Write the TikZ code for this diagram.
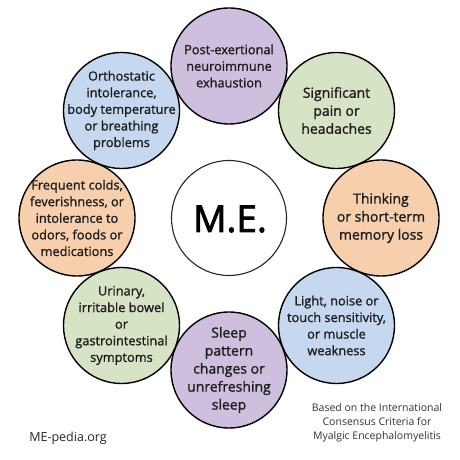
\documentclass[tikz,border=0pt]{standalone}
\usepackage{fontspec}
\setmainfont{Open Sans}
\newfontfamily\semifont[FakeBold=1.3]{Open Sans}
\newfontfamily\heavyfont[FakeBold=2.2]{Open Sans}
\definecolor{mepurple}{RGB}{205,191,221}
\definecolor{megreen}{RGB}{214,227,196}
\definecolor{mepeach}{RGB}{247,207,173}
\definecolor{meblue}{RGB}{197,216,240}
\definecolor{metext}{RGB}{30,30,30}
\tikzset{
  outer/.style={circle, draw=black, line width=1.4pt, minimum size=116pt, inner sep=0pt},
  centre/.style={circle, draw=black!85, line width=1.1pt, minimum size=115pt, inner sep=0pt, fill=white},
  lbl/.style={align=center, text=metext, inner sep=0pt, font=\semifont\fontsize{12.8}{16.6}\selectfont},
  lblbig/.style={align=center, text=metext, inner sep=0pt, font=\semifont\fontsize{14}{18}\selectfont},
}
\begin{document}
\begin{tikzpicture}[x=1pt,y=1pt]
\useasboundingbox (0,0) rectangle (460,460);
\fill[white] (0,0) rectangle (460,460);
% outer circles (image y flipped: y = 460 - yimg)
\node[outer, fill=mepurple] (c1) at (229,394) {};
\node[outer, fill=megreen]  (c2) at (336.5,349.5) {};
\node[outer, fill=mepeach]  (c3) at (381,242) {};
\node[outer, fill=meblue]   (c4) at (336.5,134.5) {};
\node[outer, fill=mepurple] (c5) at (229,90) {};
\node[outer, fill=megreen]  (c6) at (121.5,134.5) {};
\node[outer, fill=mepeach]  (c7) at (77,242) {};
\node[outer, fill=meblue]   (c8) at (121.5,349.5) {};
\node[centre] (c0) at (229,242) {};
% texts
\node[lbl] (t1) at (c1.center) {Post-exertional\\neuroimmune\\exhaustion};
\node[lblbig] (t2) at (c2.center) {Significant\\pain or\\headaches};
\node[lblbig] (t3) at (c3.center) {Thinking\\or short-term\\memory loss};
\node[lbl] (t4) at (c4.center) {Light, noise or\\touch sensitivity,\\or muscle\\weakness};
\node[lblbig] (t5) at (c5.center) {Sleep\\pattern\\changes or\\unrefreshing\\sleep};
\node[lbl] (t6) at (c6.center) {Urinary,\\irritable bowel\\or\\gastrointestinal\\symptoms};
\node[lbl] (t7) at (c7.center) {Frequent colds,\\feverishness, or\\intolerance to\\odors, foods or\\medications};
\node[lbl] (t8) at (c8.center) {Orthostatic\\intolerance,\\body temperature\\or breathing\\problems};
\node[inner sep=0pt, text=black, font=\heavyfont\fontsize{37}{37}\selectfont] (t0) at (230,241) {M.E.};
% captions
\node[align=center, inner sep=0pt, text=black!80, font=\fontsize{10.5}{14}\selectfont] (cap) at (377,37) {Based on the International\\Consensus Criteria for\\Myalgic Encephalomyelitis};
\node[inner sep=0pt, text=black!85, font=\fontsize{12.5}{15}\selectfont] (site) at (68,22) {ME-pedia.org};
\end{tikzpicture}
\end{document}
